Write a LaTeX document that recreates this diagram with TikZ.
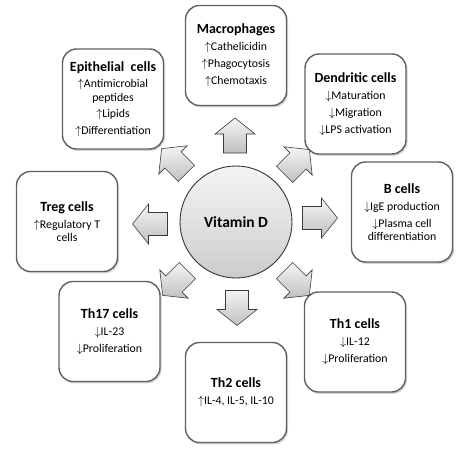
\documentclass[tikz,border=0pt]{standalone}
\usepackage{fontspec}
\setmainfont{Carlito}
\usetikzlibrary{shadows}
\tikzset{
  cellbox/.style={draw=gray!75!black, line width=1.4pt, rounded corners=14pt, fill=white,
    minimum width=101pt, minimum height=100pt, align=center, inner sep=1pt,
    font=\fontsize{11.8}{13.5}\selectfont,
    drop shadow={shadow xshift=1.5pt, shadow yshift=-1.8pt, opacity=0.35, fill=gray}},
  barrow/.style={draw=gray!45!black, line width=0.6pt, top color=gray!8, bottom color=gray!50},
  hub/.style={circle, draw=gray!40!black, line width=0.9pt, minimum size=112pt, inner sep=0pt,
    top color=gray!8, bottom color=gray!40, font=\fontsize{15.5}{18}\selectfont\bfseries},
}
\newcommand{\ttl}[1]{{\fontsize{14}{16}\selectfont\bfseries #1}}
\newcommand{\upar}{$\uparrow$}
\newcommand{\dnar}{$\downarrow$}
\newcommand{\blockarrow}[3]{%
  \path[barrow, shift={(#1,#2)}, rotate=#3]
    (-17.5,-11.5) -- (1.5,-11.5) -- (1.5,-20) -- (17.5,0) -- (1.5,20) -- (1.5,11.5) -- (-17.5,11.5) -- cycle;}
\begin{document}
\begin{tikzpicture}[x=1pt,y=-1pt]
\useasboundingbox (0,0) rectangle (474,450);

\node[hub] (vd) at (236,222) {Vitamin D};

\node[cellbox] (mac) at (236,55.5) {\ttl{Macrophages}\\[3.5pt]\upar Cathelicidin\\[3.5pt]\upar Phagocytosis\\[3.5pt]\upar Chemotaxis};
\node[cellbox] (epi) at (113,99) {\ttl{Epithelial\ \ cells}\\[3pt]\upar Antimicrobial\\peptides\\[3pt]\upar Lipids\\[3pt]\upar Differentiation};
\node[cellbox] (den) at (355.5,104) {\ttl{Dendritic cells}\\[3.5pt]\dnar Maturation\\[3.5pt]\dnar Migration\\[3.5pt]\dnar LPS activation};
\node[cellbox] (treg) at (67,221.5) {\ttl{Treg cells}\\[3.5pt]\upar Regulatory T\\cells};
\node[cellbox] (bc) at (402,212) {\ttl{B cells}\\[3.5pt]\dnar IgE production\\[3.5pt]\dnar Plasma cell\\differentiation};
\node[cellbox] (th17) at (109.5,331.5) {\ttl{Th17 cells}\\[3.5pt]\dnar IL-23\\[3.5pt]\dnar Proliferation};
\node[cellbox] (th1) at (355,342) {\ttl{Th1 cells}\\[3.5pt]\dnar IL-12\\[3.5pt]\dnar Proliferation};
\node[cellbox] (th2) at (236,392.5) {\ttl{Th2 cells}\\[3.5pt]\upar IL-4, IL-5, IL-10};

\blockarrow{235}{135.5}{90}
\blockarrow{297}{162}{45}
\blockarrow{320}{218}{0}
\blockarrow{297}{283}{-45}
\blockarrow{237}{308}{-90}
\blockarrow{175}{283}{-135}
\blockarrow{150}{224}{180}
\blockarrow{174}{161}{135}
\end{tikzpicture}
\end{document}
